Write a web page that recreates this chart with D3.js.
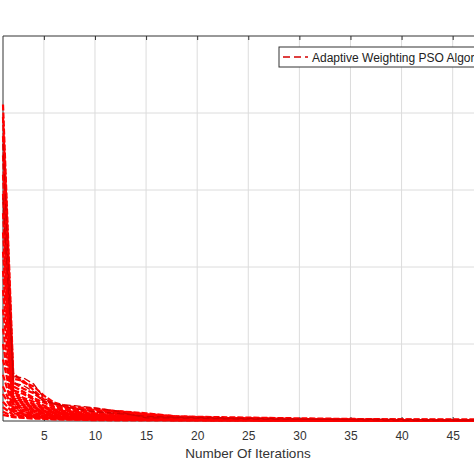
<!DOCTYPE html>
<html><head><meta charset="utf-8">
<script src="https://cdn.jsdelivr.net/npm/d3@7"></script>
<style>body{margin:0;background:#fff}svg{display:block}</style>
</head><body>
<svg id="c" width="474" height="474"></svg>
<script>
const iterations = [1,2,3,4,5,6,7,8,10,12,15,18,22,27,33,40,48];
const xTicks = [5,10,15,20,25,30,35,40,45];
const yTicks = [0,1,2,3,4,5];
const runs = [
 [4.11,0.62,0.50,0.45,0.33,0.24,0.20,0.18,0.16,0.13,0.10,0.06,0.05,0.04,0.03,0.02,0.02],
 [3.95,0.55,0.52,0.40,0.28,0.22,0.19,0.17,0.15,0.12,0.08,0.05,0.04,0.03,0.02,0.02,0.01],
 [3.70,0.50,0.42,0.36,0.26,0.20,0.18,0.16,0.14,0.13,0.09,0.06,0.04,0.03,0.02,0.01,0.01],
 [3.45,0.45,0.38,0.30,0.24,0.18,0.16,0.15,0.12,0.11,0.08,0.05,0.04,0.03,0.02,0.01,0.01],
 [3.20,0.40,0.35,0.28,0.20,0.16,0.14,0.13,0.12,0.10,0.07,0.05,0.03,0.02,0.02,0.01,0.01],
 [2.95,0.38,0.30,0.25,0.18,0.15,0.13,0.12,0.10,0.09,0.06,0.04,0.03,0.02,0.01,0.01,0.01],
 [2.70,0.35,0.28,0.22,0.17,0.14,0.12,0.11,0.09,0.08,0.06,0.04,0.03,0.02,0.01,0.01,0.01],
 [2.45,0.32,0.26,0.20,0.16,0.13,0.11,0.10,0.08,0.07,0.05,0.03,0.02,0.02,0.01,0.01,0.01],
 [2.20,0.30,0.24,0.18,0.14,0.12,0.10,0.09,0.08,0.06,0.05,0.03,0.02,0.02,0.01,0.01,0.01],
 [1.95,0.28,0.22,0.17,0.13,0.11,0.09,0.08,0.07,0.06,0.04,0.03,0.02,0.01,0.01,0.01,0.01],
 [1.70,0.26,0.20,0.15,0.12,0.10,0.09,0.08,0.06,0.05,0.04,0.03,0.02,0.01,0.01,0.01,0.01],
 [1.45,0.24,0.18,0.14,0.11,0.09,0.08,0.07,0.06,0.05,0.04,0.02,0.02,0.01,0.01,0.01,0.01],
 [1.20,0.22,0.16,0.13,0.10,0.08,0.07,0.06,0.05,0.04,0.03,0.02,0.02,0.01,0.01,0.01,0.01],
 [1.00,0.20,0.15,0.12,0.09,0.07,0.06,0.05,0.05,0.04,0.03,0.02,0.01,0.01,0.01,0.01,0.01],
 [0.80,0.18,0.13,0.10,0.08,0.06,0.05,0.05,0.04,0.03,0.03,0.02,0.01,0.01,0.01,0.01,0.01],
 [0.60,0.16,0.12,0.09,0.07,0.06,0.05,0.04,0.04,0.03,0.02,0.02,0.01,0.01,0.01,0.01,0.01],
 [0.45,0.14,0.10,0.08,0.06,0.05,0.04,0.04,0.03,0.03,0.02,0.01,0.01,0.01,0.01,0.01,0.01],
 [0.35,0.12,0.09,0.07,0.05,0.04,0.04,0.03,0.03,0.02,0.02,0.01,0.01,0.01,0.01,0.01,0.01],
 [0.25,0.10,0.08,0.06,0.05,0.04,0.03,0.03,0.02,0.02,0.02,0.01,0.01,0.01,0.01,0.01,0.01],
 [0.18,0.08,0.07,0.05,0.04,0.03,0.03,0.02,0.02,0.02,0.01,0.01,0.01,0.01,0.01,0.01,0.01],
 [0.12,0.06,0.05,0.04,0.03,0.03,0.02,0.02,0.02,0.01,0.01,0.01,0.01,0.01,0.01,0.01,0.01],
 [0.08,0.05,0.04,0.03,0.03,0.02,0.02,0.02,0.01,0.01,0.01,0.01,0.01,0.01,0.01,0.01,0.01]
];
const darkRuns = [
 [3.60,0.50,0.46,0.38,0.25,0.23,0.19,0.16,0.12,0.10,0.06,0.05,0.04,0.03,0.02,0.02,0.01],
 [2.90,0.58,0.56,0.48,0.30,0.22,0.21,0.20,0.17,0.13,0.04,0.04,0.03,0.02,0.02,0.01,0.01]
];
const svg = d3.select("#c");
const m = {l:3, r:-18, t:36, b:53};
const W = 474, H = 474;
const x = d3.scaleLinear().domain([1,47]).range([m.l, m.l + 46*10.22]);
const y = d3.scaleLinear().domain([0,5]).range([H-m.b, m.t]);
const right = 480;
// grid
svg.append("g").selectAll("line.v").data(xTicks).join("line")
  .attr("x1",d=>x(d)).attr("x2",d=>x(d)).attr("y1",y(0)).attr("y2",y(5))
  .attr("stroke","#dcdcdc").attr("stroke-width",1);
svg.append("g").selectAll("line.h").data(yTicks.slice(1,5)).join("line")
  .attr("x1",m.l).attr("x2",right).attr("y1",d=>y(d)).attr("y2",d=>y(d))
  .attr("stroke","#dcdcdc").attr("stroke-width",1);
// axes
const xb = svg.append("g").attr("transform",`translate(0,${y(0)})`)
  .call(d3.axisBottom(x).tickValues(xTicks).tickSize(-4).tickPadding(10).tickSizeOuter(0));
const xt = svg.append("g").attr("transform",`translate(0,${y(5)})`)
  .call(d3.axisTop(x).tickValues(xTicks).tickSize(-4).tickFormat("").tickSizeOuter(0));
[xb,xt].forEach(g=>{g.select(".domain").remove();g.selectAll("line").attr("stroke","#333");});
xb.selectAll("text").attr("font-family","Liberation Sans, Arial").attr("font-size",12).attr("fill","#333");
svg.append("line").attr("x1",m.l).attr("x2",right).attr("y1",y(0)).attr("y2",y(0)).attr("stroke","#333");
svg.append("line").attr("x1",m.l).attr("x2",right).attr("y1",y(5)).attr("y2",y(5)).attr("stroke","#333");
svg.append("line").attr("x1",m.l).attr("x2",m.l).attr("y1",y(0)).attr("y2",y(5)).attr("stroke","#333");
// lines
const line = d3.line().x((d,i)=>x(iterations[i])).y(d=>y(d));
svg.append("g").selectAll("path").data(runs).join("path")
  .attr("d",line).attr("fill","none").attr("stroke","#ff0000")
  .attr("stroke-width",2.2).attr("stroke-dasharray","6,2");
svg.append("g").selectAll("path").data(darkRuns).join("path")
  .attr("d",line).attr("fill","none").attr("stroke","#d40000")
  .attr("stroke-width",1.3).attr("stroke-dasharray","7,3");
// legend
const lg = svg.append("g");
lg.append("rect").attr("x",279).attr("y",47).attr("width",220).attr("height",20)
  .attr("fill","#fff").attr("stroke","#333").attr("stroke-width",1);
lg.append("line").attr("x1",283).attr("x2",308).attr("y1",57).attr("y2",57)
  .attr("stroke","#d40000").attr("stroke-width",1.3).attr("stroke-dasharray","7,4");
lg.append("text").attr("x",312).attr("y",61.5).text("Adaptive Weighting PSO Algorithm")
  .attr("font-family","Liberation Sans, Arial").attr("font-size",12).attr("fill","#222");
svg.append("text").attr("x",248).attr("y",458).attr("text-anchor","middle")
  .attr("font-family","Liberation Sans, Arial").attr("font-size",13.5).attr("fill","#333")
  .text("Number Of Iterations");
</script>
</body></html>
